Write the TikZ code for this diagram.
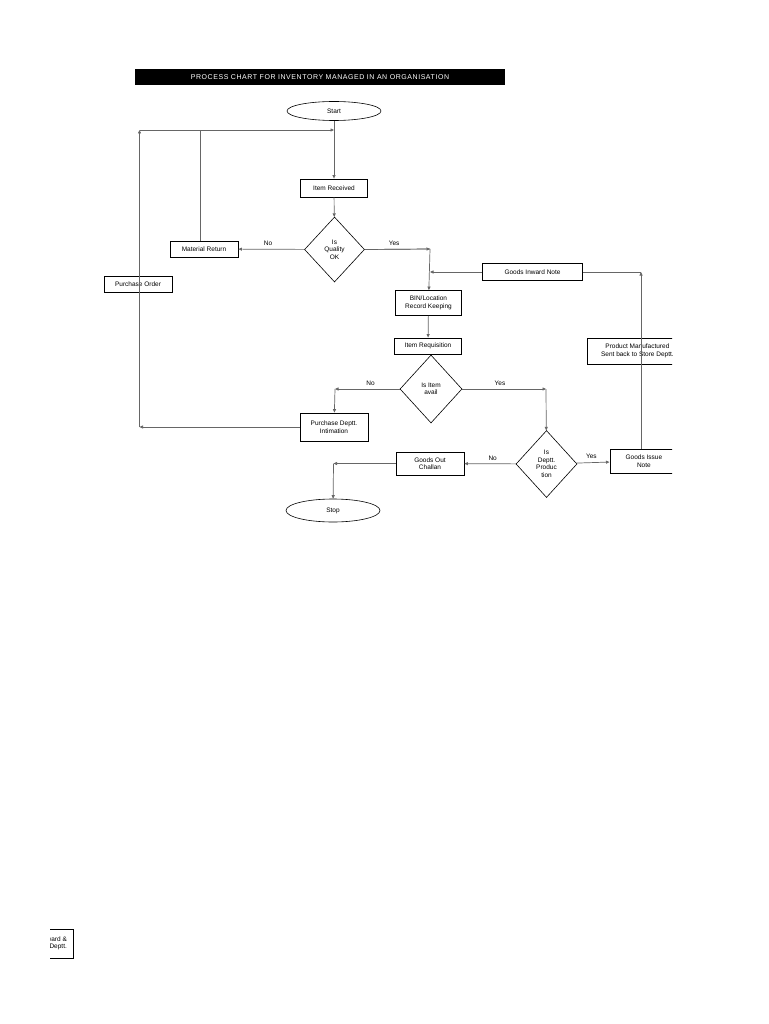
\documentclass[tikz,border=0pt]{standalone}
\usepackage{fontspec}
\setmainfont{Liberation Sans}
\usetikzlibrary{shapes.geometric,arrows.meta}
\begin{document}
\begin{tikzpicture}[x=1pt,y=-1pt,
  box/.style={draw,line width=0.8pt,inner sep=0pt,align=center,font=\fontsize{6.5}{7.5}\selectfont},
  dia/.style={draw,line width=0.6pt,diamond,inner sep=0pt,align=center,font=\fontsize{6.5}{7.5}\selectfont},
  ell/.style={draw,line width=0.6pt,ellipse,inner sep=0pt,font=\fontsize{6.5}{7.5}\selectfont},
  con/.style={draw=black!60,line width=0.7pt},
  arr/.style={con,-{Triangle[length=3.5pt,width=3pt]}},
  lab/.style={font=\fontsize{6.5}{7.5}\selectfont}]
\useasboundingbox (0,0) rectangle (768,1024);
\fill[white] (0,0) rectangle (768,1024);
\begin{scope}
\clip (0,0) rectangle (672,1024);
\node[fill=black,minimum width=370pt,minimum height=16pt,inner sep=0pt,text=white,font=\fontsize{7}{8}\selectfont\addfontfeature{LetterSpace=8}] (title) at (320,77) {PROCESS CHART FOR INVENTORY MANAGED IN AN ORGANISATION};
\node[ell,minimum width=94pt,minimum height=19pt] (start) at (334,111) {Start};
\node[box,minimum width=67pt,minimum height=18pt] (ir) at (334,188) {Item Received};
\node[dia,minimum width=60pt,minimum height=65pt] (q) at (334.5,249.5) {Is\\Quality\\OK};
\node[box,minimum width=68pt,minimum height=16pt] (mr) at (204,249) {Material Return};
\node[box,minimum width=100pt,minimum height=17pt] (gin) at (532.5,272) {Goods Inward Note};
\node[box,minimum width=66pt,minimum height=25pt] (bin) at (428.5,303) {BIN/Location\\Record Keeping};
\node[box,minimum width=68pt,minimum height=16pt] (po) at (138,284) {Purchase Order};
\node[box,minimum width=67pt,minimum height=16pt] (req) at (428,346) {Item Requisition};
\node[dia,minimum width=62pt,minimum height=68pt] (av) at (431,389) {Is Item\\avail};
\node[box,minimum width=68pt,minimum height=28pt] (pd) at (334,427) {Purchase Deptt.\\Intimation};
\node[dia,minimum width=61pt,minimum height=67pt] (dp) at (546.5,464) {Is\\Deptt.\\Produc\\tion};
\node[box,minimum width=68pt,minimum height=23pt] (goc) at (430,463.5) {Goods Out\\Challan};
\node[ell,minimum width=94pt,minimum height=23pt] (stop) at (333,510.5) {Stop};
\node[box,minimum width=68pt,minimum height=24pt,anchor=west] (gis) at (609.5,461) {Goods Issue\\Note};
\node[box,minimum width=100pt,minimum height=26pt,anchor=west] (pm) at (587,351) {Product Manufactured\\Sent back to Store Deptt.};
\coordinate (tl) at (139.5,130);
\coordinate (tm) at (200.5,130);
\coordinate (tr) at (334,130);
\coordinate (y1) at (430,249);
\coordinate (gi) at (430,272);
\coordinate (gr) at (641,272);
\coordinate (n1) at (335,389);
\coordinate (y2) at (546,389);
\coordinate (pl) at (139.5,427);
\coordinate (s1) at (333.5,463.5);
\draw[con] (start) -- (tr);
\draw[arr] (tr) -- (ir);
\draw[arr] (ir) -- (q);
\draw[arr] (q) -- node[lab,above,pos=0.55]{No} (mr);
\draw[con] (mr.north -| tm) -- (tm);
\draw[arr] (tl) -- (tr);
\draw[con] (q.east) -- node[lab,above,pos=0.45]{Yes} (y1);
\draw[arr] (q.east) -- (y1);
\draw[arr] (y1) -- (bin);
\draw[arr] (gin) -- (gi);
\draw[con] (gin) -- (gr);
\draw[arr] (gis.north -| gr) -- (gr);
\draw[arr] (bin) -- (req);
\draw[arr] (av) -- node[lab,above,pos=0.45]{No} (n1);
\draw[arr] (n1) -- (pd);
\draw[arr] (pd) -- (pl);
\draw[arr] (pl) -- (tl);
\draw[arr] (av) -- node[lab,above,pos=0.45]{Yes} (y2);
\draw[arr] (y2) -- (dp);
\draw[arr] (dp) -- node[lab,above,pos=0.45]{No} (goc);
\draw[arr] (dp) -- node[lab,above,pos=0.45]{Yes} (gis);
\draw[arr] (goc) -- (s1);
\draw[arr] (s1) -- (stop);
\end{scope}
\begin{scope}
\clip (50,900) rectangle (100,980);
\node[box,minimum width=60pt,minimum height=29pt,anchor=east] (note) at (74,943.5) {Goods Inward \&\\ Purchase Deptt.};
\end{scope}
\end{tikzpicture}
\end{document}
